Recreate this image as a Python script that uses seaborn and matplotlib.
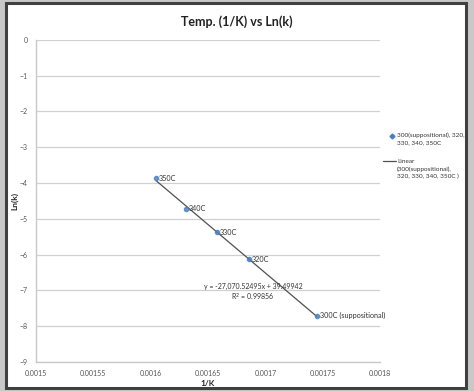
import seaborn as sns
import pandas as pd
import numpy as np
import matplotlib.pyplot as plt
from matplotlib.patches import Rectangle
from matplotlib.lines import Line2D

temps_c = [350, 340, 330, 320, 300]
labels = ['350C', '340C', '330C', '320C', '300C (suppositional)']
inv_k = [1 / (t + 273.15) for t in temps_c]
ln_k = [-3.87, -4.72, -5.38, -6.13, -7.71]
xticks = [0.0015, 0.00155, 0.0016, 0.00165, 0.0017, 0.00175, 0.0018]
xticklabels = ['0.0015', '0.00155', '0.0016', '0.00165', '0.0017', '0.00175', '0.0018']
yticks = [0, -1, -2, -3, -4, -5, -6, -7, -8, -9]

df = pd.DataFrame({'inv_k': inv_k, 'ln_k': ln_k, 'label': labels})

sns.set_style('white')
plt.rcParams['font.family'] = ['Lato', 'DejaVu Sans']

fig = plt.figure(figsize=(4.74, 3.91), dpi=100)
fig.patch.set_facecolor('#c8c8c8')
fig.add_artist(Rectangle((0.012, 0.008), 0.972, 0.985, transform=fig.transFigure,
                         facecolor='white', edgecolor='#404040', linewidth=2.2,
                         zorder=-5))

ax = fig.add_axes([0.076, 0.074, 0.726, 0.824])
ax.set_facecolor('white')
sns.regplot(data=df, x='inv_k', y='ln_k', ax=ax, ci=None, truncate=True,
            scatter_kws=dict(marker='D', s=9, color='#4a7ebb', zorder=3),
            line_kws=dict(color='#505050', linewidth=0.9, zorder=2))

ax.set_xlim(0.0015, 0.0018)
ax.set_ylim(-9, 0)
ax.set_xticks(xticks)
ax.set_xticklabels(xticklabels)
ax.set_yticks(yticks)
ax.yaxis.grid(True, color='#d0d0d0', linewidth=0.9)
ax.tick_params(axis='both', labelsize=5, colors='#555555', length=3, width=0.6,
               direction='out', pad=3)
ax.tick_params(axis='both', color='#bbbbbb')
for s in ['top', 'right']:
    ax.spines[s].set_visible(False)
for s in ['left', 'bottom']:
    ax.spines[s].set_color('#c8c8c8')
    ax.spines[s].set_linewidth(1.0)
ax.set_xlabel('1/K', fontsize=6, fontweight='bold', labelpad=2)
ax.set_ylabel('Ln(k)', fontsize=6, fontweight='bold')
ax.yaxis.set_label_coords(-0.052, 0.5)

for x, y, lab in zip(inv_k, ln_k, labels):
    ax.annotate(lab, (x, y), xytext=(2, 0), textcoords='offset points',
                fontsize=5.2, va='center', ha='left', color='#333333')

ax.text(0.0016892, -6.9, 'y = -27,070.52495x + 39.49942', fontsize=5, ha='center',
        va='center', color='#333333')
ax.text(0.0016892, -7.18, 'R$^2$ = 0.99856', fontsize=5, ha='center', va='center',
        color='#333333')

fig.text(0.5, 0.945, 'Temp. (1/K) vs Ln(k)', ha='center', va='center', fontsize=9,
         fontweight='bold', color='#222222')

# legend
fig.add_artist(Line2D([0.826], [0.652], marker='D', markersize=2.5, color='#4a7ebb',
                      transform=fig.transFigure))
fig.text(0.838, 0.66, '300(suppositional), 320,\n330, 340, 350C', fontsize=4.6,
         va='top', ha='left', color='#333333', linespacing=1.5)
fig.add_artist(Line2D([0.808, 0.836], [0.587, 0.587], color='#505050', linewidth=0.9,
                      transform=fig.transFigure))
fig.text(0.838, 0.594, 'Linear\n(300(suppositional),\n320, 330, 340, 350C )',
         fontsize=4.6, va='top', ha='left', color='#333333', linespacing=1.5)

fig.savefig('out.png', dpi=100, facecolor=fig.get_facecolor())
